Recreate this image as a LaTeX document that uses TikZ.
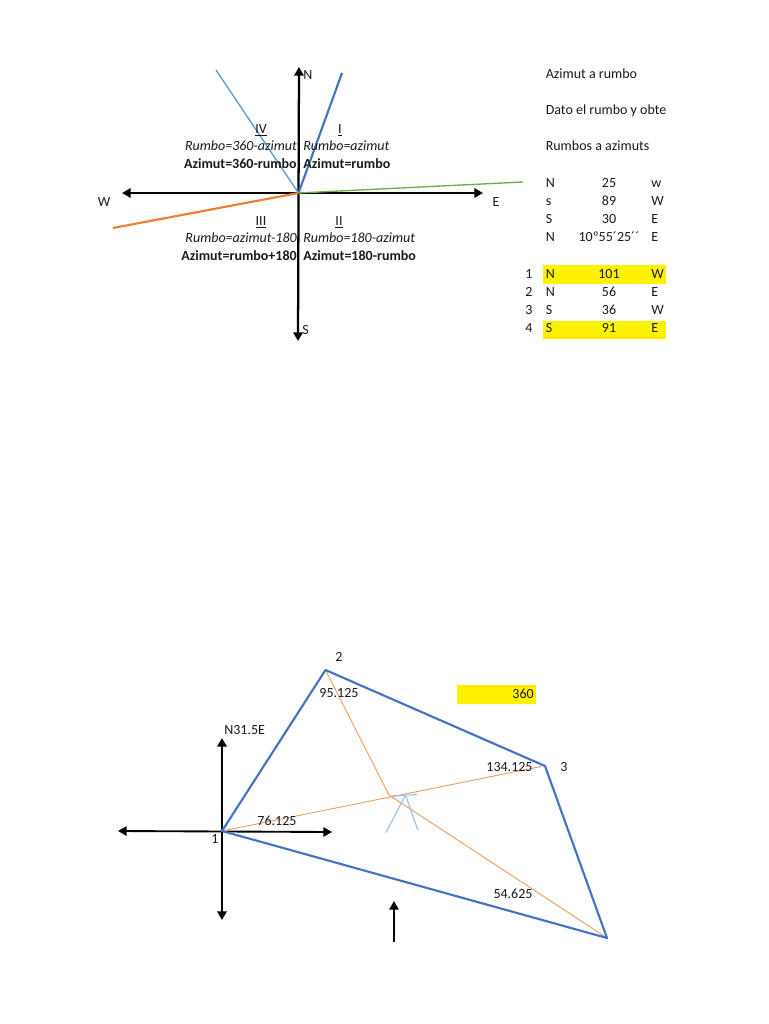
\documentclass[tikz,border=0pt]{standalone}
\usepackage{fontspec}
\setmainfont{Carlito}
\usetikzlibrary{arrows.meta}
\definecolor{cblue}{HTML}{4472C4}
\definecolor{clight}{HTML}{5B9BD5}
\definecolor{cpale}{HTML}{9DC3E6}
\definecolor{corange}{HTML}{ED7D31}
\definecolor{cgreen}{HTML}{70AD47}
\definecolor{ctext}{HTML}{1A1A1A}
\tikzset{
  x=0.75pt,y=-0.75pt,
  txt/.style={inner sep=0pt,yshift=-0.6pt,font=\fontsize{10.5pt}{12pt}\selectfont,text=ctext},
  lft/.style={txt,anchor=base west},
  rgt/.style={txt,anchor=base east},
  mid/.style={txt,anchor=base},
  axis/.style={black,line width=1.7pt,{Triangle[length=6.5pt,width=7pt]}-{Triangle[length=6.5pt,width=7pt]}},
  uparrow/.style={black,line width=1.4pt,-{Triangle[length=6.5pt,width=7pt]}},
  poly/.style={cblue,line width=1.6pt,line join=round},
  thin orange/.style={corange!75!white,line width=0.7pt},
  pale/.style={cpale,line width=0.9pt},
  hl/.style={fill=yellow,draw=none}
}
\begin{document}
\begin{tikzpicture}
\useasboundingbox (0,0) rectangle (768,1024);
% highlights
\fill[hl] (543,265) rectangle (666,284);
\fill[hl] (543,321) rectangle (666,339);
\fill[hl] (457,685) rectangle (536,704);
% upper compass
\coordinate (c) at (298.5,193);
\coordinate (n) at (299,67);
\coordinate (s) at (298,341);
\coordinate (w) at (122,193);
\coordinate (e) at (483,193);
\coordinate (qiv) at (216,70);
\coordinate (qi) at (342,73);
\coordinate (qii) at (523,182);
\coordinate (qiii) at (113,228);
\draw[axis] (n) -- (s);
\draw[axis] (w) -- (e);
\draw[clight,line width=1pt] (qiv) -- (c);
\draw[cblue,line width=1.6pt] (qi) -- (c);
\draw[cgreen,line width=1pt] (qii) -- (c);
\draw[corange,line width=1.6pt] (qiii) -- (c);
\node[lft] (ln) at (303,78.5) {N};
\node[lft] (ls) at (302,333.5) {S};
\node[mid] (lw) at (104,205.5) {W};
\node[mid] (le) at (496,205.5) {E};
\node[mid] (qa) at (261,132.5) {\underline{IV}};
\node[mid] (qb) at (340,132.5) {\underline{I}};
\node[mid] (qc) at (261,224.5) {\underline{III}};
\node[mid] (qd) at (339,224.5) {\underline{II}};
\node[rgt] (t1) at (297,150) {\itshape Rumbo=360-azimut};
\node[lft] (t2) at (303,150) {\itshape Rumbo=azimut};
\node[rgt] (t3) at (297,168) {\bfseries Azimut=360-rumbo};
\node[lft] (t4) at (303,168) {\bfseries Azimut=rumbo};
\node[rgt] (t5) at (297,242) {\itshape Rumbo=azimut-180};
\node[lft] (t6) at (303,242) {\itshape Rumbo=180-azimut};
\node[rgt] (t7) at (297,260) {\bfseries Azimut=rumbo+180};
\node[lft] (t8) at (303,260) {\bfseries Azimut=180-rumbo};
% table
\node[lft] (h1) at (545.5,78) {Azimut a rumbo};
\node[lft] (h2) at (545.5,114) {Dato el rumbo y obte};
\node[lft] (h3) at (545.5,150) {Rumbos a azimuts};
\node[lft] (a1) at (545.5,187) {N};
\node[mid] (b1) at (609,187) {25};
\node[lft] (c1) at (651,187) {w};
\node[lft] (a2) at (545.5,205) {s};
\node[mid] (b2) at (609,205) {89};
\node[lft] (c2) at (651,205) {W};
\node[lft] (a3) at (545.5,223) {S};
\node[mid] (b3) at (609,223) {30};
\node[lft] (c3) at (651,223) {E};
\node[lft] (a4) at (545.5,241) {N};
\node[mid] (b4) at (609,241) {10º55´25´´};
\node[lft] (c4) at (651,241) {E};
\node[mid] (i1) at (529,277.5) {1};
\node[lft] (a5) at (545.5,277.5) {N};
\node[mid] (b5) at (609,277.5) {101};
\node[lft] (c5) at (651,277.5) {W};
\node[mid] (i2) at (529,296) {2};
\node[lft] (a6) at (545.5,296) {N};
\node[mid] (b6) at (609,296) {56};
\node[lft] (c6) at (651,296) {E};
\node[mid] (i3) at (529,314) {3};
\node[lft] (a7) at (545.5,314) {S};
\node[mid] (b7) at (609,314) {36};
\node[lft] (c7) at (651,314) {W};
\node[mid] (i4) at (529,332) {4};
\node[lft] (a8) at (545.5,332) {S};
\node[mid] (b8) at (609,332) {91};
\node[lft] (c8) at (651,332) {E};
% lower figure
\coordinate (p1) at (222,831);
\coordinate (p2) at (325.5,670);
\coordinate (p3) at (545,766);
\coordinate (p4) at (607,938);
\coordinate (p3i) at (541,766.5);
\coordinate (bend) at (389,795);
\coordinate (lN) at (222,738);
\coordinate (lS) at (222,920);
\coordinate (lW) at (118,831);
\coordinate (lE) at (332,832);
\draw[axis] (lN) -- (lS);
\draw[axis,line width=1.4pt] (lW) -- (lE);
\draw[thin orange] (p1) -- (p3i);
\draw[thin orange] (p2) -- (bend) -- (p4);
\draw[poly] (p1) -- (p2) -- (p3) -- (p4) -- cycle;
\coordinate (a) at (405.5,795);
\coordinate (al) at (386,832.5);
\coordinate (ar) at (418,830.5);
\coordinate (tl) at (391,796);
\coordinate (tr) at (417,794.5);
\draw[pale] (al) -- (a) -- (ar);
\draw[pale] (tl) -- (tr);
\coordinate (ub) at (394,942);
\coordinate (ut) at (394,901);
\draw[uparrow] (ub) -- (ut);
\node[lft] (l0) at (224,734) {N31.5E};
\node[mid] (l1) at (215,843) {1};
\node[mid] (l2) at (339,661) {2};
\node[mid] (l3) at (564,771) {3};
\node[mid] (v1) at (339,697) {95.125};
\node[mid] (v2) at (277,825) {76.125};
\node[mid] (v3) at (509.5,771) {134.125};
\node[mid] (v4) at (513,898) {54.625};
\node[rgt] (v5) at (534,698) {360};
\end{tikzpicture}
\end{document}
